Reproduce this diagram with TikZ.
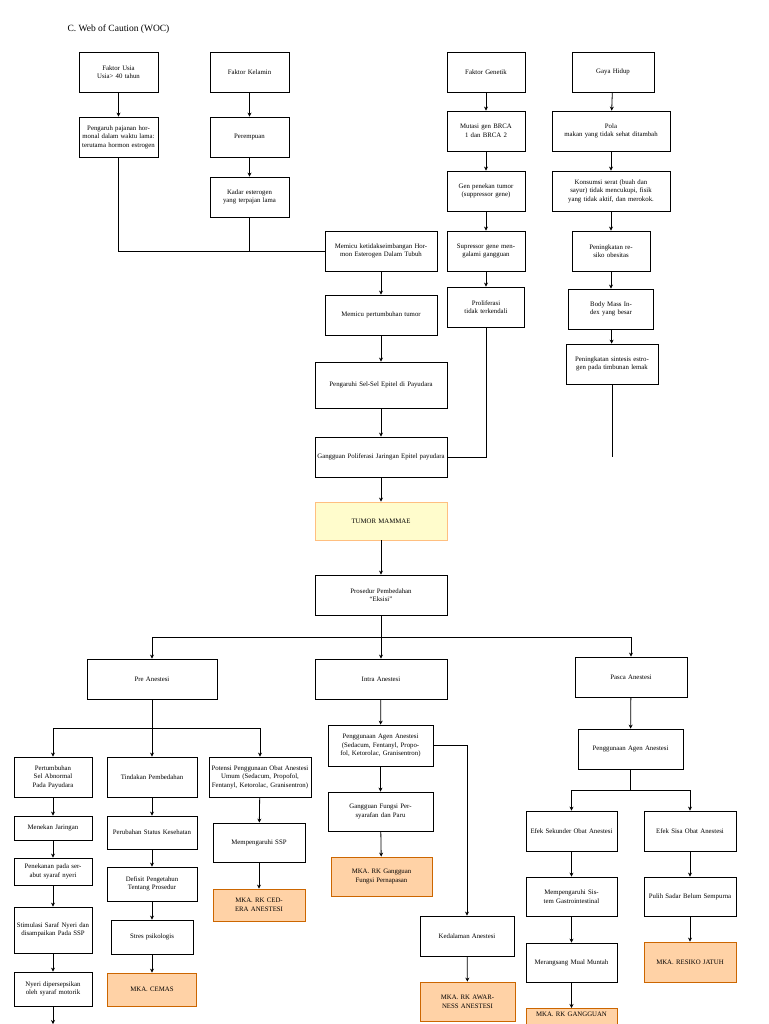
\documentclass[tikz,border=0pt]{standalone}
\usepackage{fontspec}
\setmainfont{Liberation Serif}
\usetikzlibrary{arrows.meta}

\tikzset{
  box/.style 2 args={draw, line width=0.8pt, align=center,
    /utils/exec={\pgfmathsetmacro\bw{#1-4}}, text width=\bw pt,
    inner xsep=2pt, inner ysep=1pt, minimum height=#2pt,
    font=\fontsize{6.8}{8.6}\selectfont},
  mka/.style={fill=orange!35, draw=orange!80!black},
  tum/.style={fill=yellow!20, draw=orange!50},
  arr/.style={-{Stealth[length=4pt,width=4pt]}, line width=0.8pt},
  ln/.style={line width=0.8pt}
}

\begin{document}
\begin{tikzpicture}[x=1pt,y=-1pt]
  \useasboundingbox (0,0) rectangle (768,1024);
  \node[anchor=west, font=\fontsize{9.5}{11}\selectfont] (judul) at (64,29) {C. Web of Caution (WOC)};

  %faktor
  \node[box={79}{40}] (usia) at (118.5,72) {Faktor Usia\\Usia> 40 tahun};
  \node[box={79}{40}] (kelamin) at (249.5,72) {Faktor Kelamin};
  \node[box={78}{40}] (genetik) at (486,72) {Faktor Genetik};
  \node[box={82}{40}] (gaya) at (613,72) {Gaya Hidup};
  \node[box={79}{40}] (pajanan) at (118.5,137) {Pengaruh pajanan hormonal dalam waktu lama: terutama hormon estrogen};
  \node[box={79}{40}] (perempuan) at (249.5,137) {Perempuan};
  \node[box={79}{40}] (kadar) at (249.5,197) {Kadar esterogen yang terpajan lama};
  \node[box={78}{40}] (mutasi) at (486,131) {Mutasi gen BRCA 1 dan BRCA 2};
  \node[box={118}{40}] (pola) at (611,131) {Pola\\makan yang tidak sehat ditambah};
  \node[box={78}{40}] (penekan) at (486,191) {Gen penekan tumor (suppressor gene)};
  \node[box={118}{40}] (serat) at (611,191) {Konsumsi serat (buah dan sayur) tidak mencukupi, fisik yang tidak aktif, dan merokok.};
  \node[box={78}{40}] (supresor) at (486,251) {Supressor gene mengalami gangguan};
  \node[box={78}{40}] (obesitas) at (611,251) {Peningkatan resiko obesitas};
  \node[box={77}{40}] (proliferasi) at (486,307) {Proliferasi tidak terkendali};
  \node[box={85}{40}] (bmi) at (611,309) {Body Mass Index yang besar};
  \node[box={92}{40}] (sintesis) at (612,364) {Peningkatan sintesis estrogen pada timbunan lemak};

  %tengah
  \node[box={112}{40}] (ketidak) at (381,251) {Memicu ketidakseimbangan Hormon Esterogen Dalam Tubuh};
  \node[box={112}{40}] (tumbuh) at (381,315) {Memicu pertumbuhan tumor};
  \node[box={132}{46}] (epitel) at (381,385) {Pengaruhi Sel-Sel Epitel di Payudara};
  \node[box={132}{40}] (jaringan) at (381,457) {Gangguan Poliferasi Jaringan Epitel payudara};
  \node[box={132}{38}, tum] (tumor) at (381,521) {TUMOR MAMMAE};
  \node[box={132}{40}] (prosedur) at (381,595) {Prosedur Pembedahan\\``Eksisi''};
  \node[box={130}{40}] (pre) at (152,679) {Pre Anestesi};
  \node[box={132}{40}] (intra) at (381,679) {Intra Anestesi};
  \node[box={112}{40}] (pasca) at (631,677) {Pasca Anestesi};

  %pre
  \node[box={78}{40}] (abnormal) at (53,777) {Pertumbuhan\\Sel Abnormal Pada Payudara};
  \node[box={90}{40}] (tindakan) at (152,777) {Tindakan Pembedahan};
  \node[box={102}{40}] (potensi) at (260,777) {Potensi Penggunaan Obat Anestesi Umum (Sedacum, Propofol, Fentanyl, Ketorolac, Granisentron)};
  \node[box={78}{24}] (menekan) at (53,828) {Menekan Jaringan};
  \node[box={78}{27}] (serabut) at (53,871.5) {Penekanan pada serabut syaraf nyeri};
  \node[box={78}{46}] (stimulasi) at (53,930) {Stimulasi Saraf Nyeri dan disampaikan Pada SSP};
  \node[box={78}{34}] (motorik) at (53,989) {Nyeri dipersepsikan oleh syaraf motorik};
  \coordinate (lanjut) at (53,1024);
  \node[box={90}{33}] (status) at (152,832.5) {Perubahan Status Kesehatan};
  \node[box={90}{34}] (defisit) at (152,884) {Defisit Pengetahun Tentang Prosedur};
  \node[box={82}{34}] (stres) at (152,937) {Stres psikologis};
  \node[box={89}{33}, mka] (cemas) at (152,989.5) {MKA. CEMAS};
  \node[box={92}{39}] (ssp) at (259,842.5) {Mempengaruhi SSP};
  \node[box={92}{32}, mka] (cedera) at (259,905) {MKA. RK CEDERA ANESTESI};

  %intra
  \node[box={105}{41}] (agen) at (380.5,745.5) {Penggunaan Agen Anestesi (Sedacum, Fentanyl, Propofol, Ketorolac, Granisentron)};
  \node[box={105}{39}] (persyarafan) at (380.5,811.5) {Gangguan Fungsi Persyarafan dan Paru};
  \node[box={101}{39}, mka] (napas) at (381.5,876.5) {MKA. RK Gangguan Fungsi Pernapasan};
  \node[box={94}{40}] (kedalaman) at (467,936) {Kedalaman Anestesi};
  \node[box={95}{39}, mka] (awarness) at (467.5,1001.5) {MKA. RK AWARNESS ANESTESI};

  %pasca
  \node[box={105}{40}] (agenpasca) at (630.5,749) {Penggunaan Agen Anestesi};
  \node[box={91}{40}] (sekunder) at (571.5,831) {Efek Sekunder Obat Anestesi};
  \node[box={92}{40}] (sisa) at (690,831) {Efek Sisa Obat Anestesi};
  \node[box={91}{39}] (gastro) at (571.5,896.5) {Mempengaruhi Sistem Gastrointestinal};
  \node[box={91}{39}] (muntah) at (571.5,962.5) {Merangsang Mual Muntah};
  \node[box={91}{40}, mka, anchor=north, text depth=28pt] (eliminasi) at (571.5,1008) {MKA. RK GANGGUAN};
  \node[box={92}{39}] (pulih) at (690,896.5) {Pulih Sadar Belum Sempurna};
  \node[box={92}{40}, mka] (jatuh) at (690,962) {MKA. RESIKO JATUH};

  \foreach \a/\b in {usia/pajanan, kelamin/perempuan, perempuan/kadar,
      genetik/mutasi, mutasi/penekan, penekan/supresor, supresor/proliferasi,
      gaya/pola, pola/serat, serat/obesitas, obesitas/bmi, bmi/sintesis,
      ketidak/tumbuh, tumbuh/epitel, epitel/jaringan, jaringan/tumor, tumor/prosedur,
      abnormal/menekan, menekan/serabut, serabut/stimulasi, stimulasi/motorik, motorik/lanjut,
      tindakan/status, status/defisit, defisit/stres, stres/cemas,
      potensi/ssp, ssp/cedera, agen/persyarafan, persyarafan/napas, kedalaman/awarness,
      pasca/agenpasca, sekunder/gastro, gastro/muntah, muntah/eliminasi,
      sisa/pulih, pulih/jatuh}
    \draw[arr] (\a) -- (\b);

  \draw[ln] (pajanan.south) |- (ketidak.west);
  \draw[ln] (kadar.south) -- (kadar.south |- ketidak.west);
  \draw[ln] (proliferasi.south) |- (jaringan.east);
  \draw[ln] (sintesis.south) -- (sintesis.south |- jaringan.east);

  \draw[ln] (prosedur.south) -- ++(0,22) coordinate (cab);
  \foreach \t in {pre, intra, pasca}
    \draw[arr] (cab) -| (\t.north);
  \draw[ln] (pre.south) -- ++(0,29) coordinate (cabpre);
  \foreach \t in {abnormal, tindakan, potensi}
    \draw[arr] (cabpre) -| (\t.north);
  \draw[arr] (intra) -- (agen);
  \draw[arr] (agen.east) -| (kedalaman.north);
  \draw[ln] (agenpasca.south) -- ++(0,21) coordinate (cabpasca);
  \foreach \t in {sekunder, sisa}
    \draw[arr] (cabpasca) -| (\t.north);
\end{tikzpicture}
\end{document}
